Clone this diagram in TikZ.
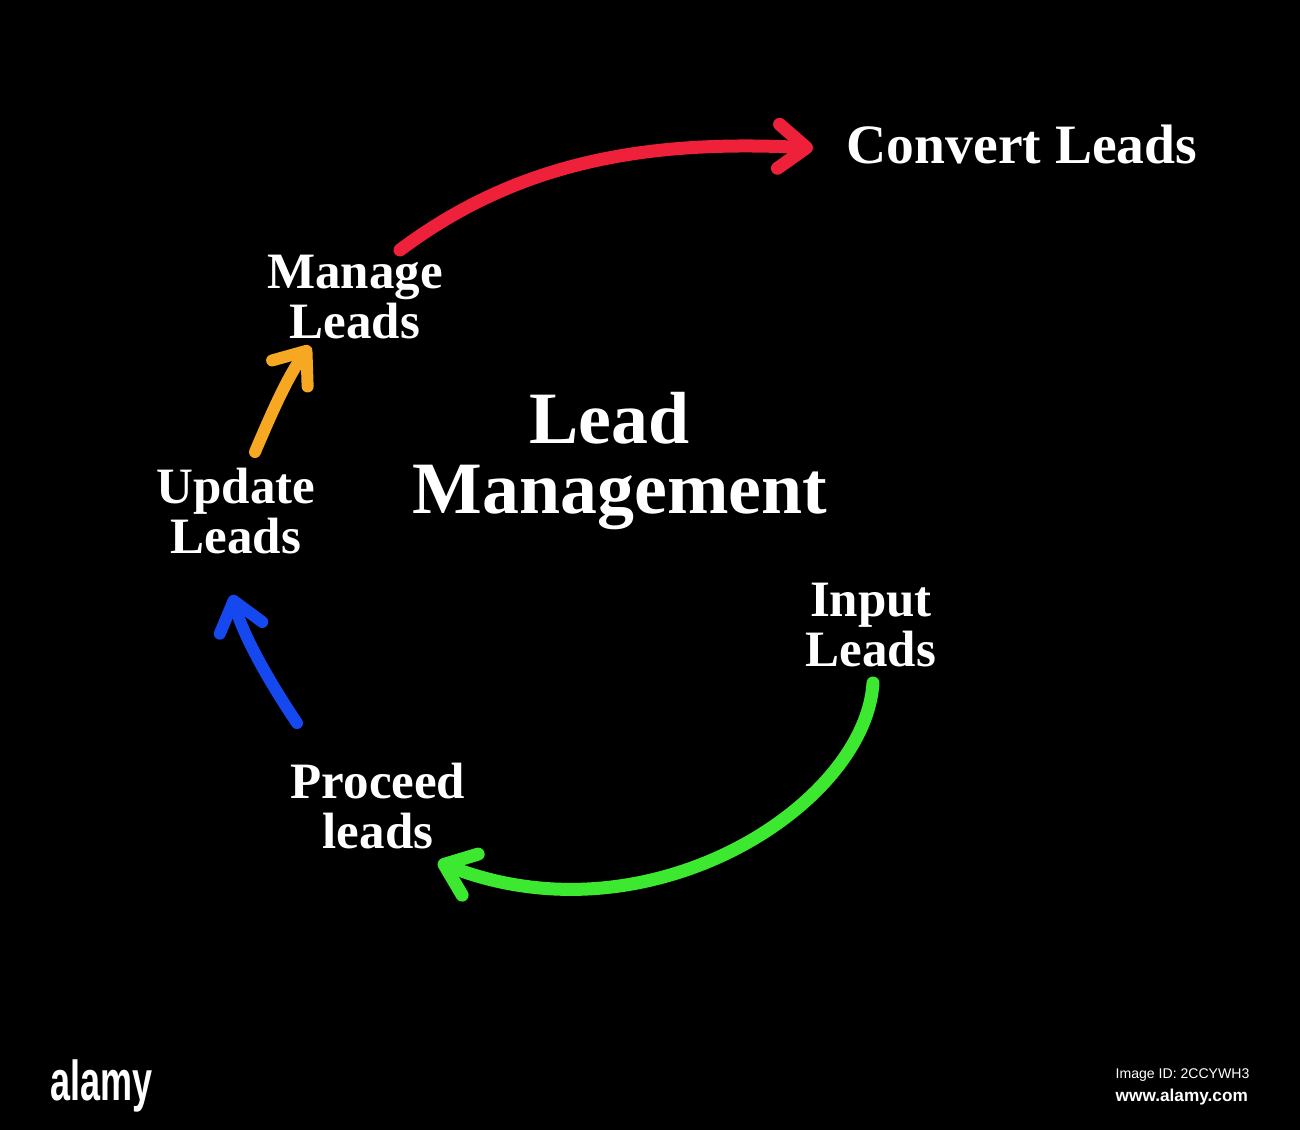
\documentclass[tikz,border=0pt]{standalone}
\usepackage{fontspec}
\setmainfont{Liberation Serif}
\newfontfamily\wmfont{Liberation Sans}
\usetikzlibrary{arrows.meta}
\definecolor{redA}{RGB}{238,32,58}
\definecolor{orangeA}{RGB}{246,168,34}
\definecolor{blueA}{RGB}{22,72,240}
\definecolor{greenA}{RGB}{60,232,48}
\tikzset{
  lbl/.style={text=white, font=\bfseries\fontsize{14.5}{14.2}\selectfont, align=center, inner sep=0pt},
  ttl/.style={text=white, font=\bfseries\fontsize{21}{19.9}\selectfont, align=center, inner sep=0pt},
  conn/.style={line width=0.13cm, line cap=round,
    -{Straight Barb[length=2.8mm,width=4.4mm,line cap=round,line join=round]}},
  wm/.style={text=white, inner sep=0pt}
}
\begin{document}
\begin{tikzpicture}[x=0.01cm,y=-0.01cm]
\fill[black] (0,0) rectangle (1300,1130);
\useasboundingbox (0,0) rectangle (1300,1130);

% labels
\node[lbl, font=\bfseries\fontsize{15.8}{15}\selectfont, anchor=base] (convert) at (1022,163) {Convert Leads};
\node[lbl] (manage) at (355,297) {Manage\\Leads};
\node[lbl] (update) at (236,511) {Update\\Leads};
\node[lbl] (input) at (871,625) {Input\\Leads};
\node[lbl] (proceed) at (378,806) {Proceed\\leads};
\node[ttl] (lm) at (620,461) {\hspace*{-6pt}Lead\\Management};

% connector end points
\coordinate (r1) at (400,250);
\coordinate (r2) at (813,148);
\coordinate (o1) at (255,452);
\coordinate (o2) at (310,346);
\coordinate (b1) at (297,723);
\coordinate (b2) at (232,595);
\coordinate (g1) at (873,683);
\coordinate (g2) at (438,862);

\draw[conn, redA] (r1) .. controls (520,160) and (650,140) .. (r2);
\draw[conn, orangeA, line width=0.12cm] (o1) .. controls (272,412) and (288,376) .. (o2);
\draw[conn, blueA, line width=0.12cm] (b1) .. controls (268,680) and (243,635) .. (b2);
\draw[conn, greenA] (g1) .. controls (865,805) and (650,945) .. (g2);

% bottom strip
\node[wm, anchor=base west, xscale=0.64, font=\wmfont\bfseries\fontsize{16}{16}\selectfont] (logo) at (50,1100) {alamy};
\node[wm, anchor=base west, font=\wmfont\fontsize{4}{4}\selectfont] (imgid) at (1115,1078) {Image ID: 2CCYWH3};
\node[wm, anchor=base west, font=\wmfont\bfseries\fontsize{4.9}{4.9}\selectfont] (site) at (1115,1101) {www.alamy.com};
\end{tikzpicture}
\end{document}
